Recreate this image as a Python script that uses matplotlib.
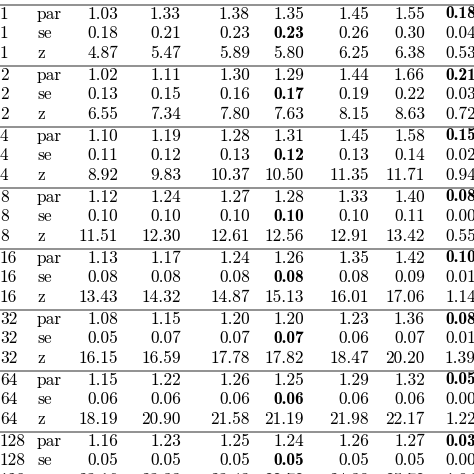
import matplotlib
matplotlib.use("Agg")
from matplotlib import pyplot as plt

ns = [1, 2, 4, 8, 16, 32, 64, 128]
kinds = ["par", "se", "z"]
par = [[1.03, 1.33, 1.38, 1.35, 1.45, 1.55, 0.18],
       [1.02, 1.11, 1.30, 1.29, 1.44, 1.66, 0.21],
       [1.10, 1.19, 1.28, 1.31, 1.45, 1.58, 0.15],
       [1.12, 1.24, 1.27, 1.28, 1.33, 1.40, 0.08],
       [1.13, 1.17, 1.24, 1.26, 1.35, 1.42, 0.10],
       [1.08, 1.15, 1.20, 1.20, 1.23, 1.36, 0.08],
       [1.15, 1.22, 1.26, 1.25, 1.29, 1.32, 0.05],
       [1.16, 1.23, 1.25, 1.24, 1.26, 1.27, 0.03]]
se = [[0.18, 0.21, 0.23, 0.23, 0.26, 0.30, 0.04],
      [0.13, 0.15, 0.16, 0.17, 0.19, 0.22, 0.03],
      [0.11, 0.12, 0.13, 0.12, 0.13, 0.14, 0.02],
      [0.10, 0.10, 0.10, 0.10, 0.10, 0.11, 0.00],
      [0.08, 0.08, 0.08, 0.08, 0.08, 0.09, 0.01],
      [0.05, 0.07, 0.07, 0.07, 0.06, 0.07, 0.01],
      [0.06, 0.06, 0.06, 0.06, 0.06, 0.06, 0.00],
      [0.05, 0.05, 0.05, 0.05, 0.05, 0.05, 0.00]]
z = [[4.87, 5.47, 5.89, 5.80, 6.25, 6.38, 0.53],
     [6.55, 7.34, 7.80, 7.63, 8.15, 8.63, 0.72],
     [8.92, 9.83, 10.37, 10.50, 11.35, 11.71, 0.94],
     [11.51, 12.30, 12.61, 12.56, 12.91, 13.42, 0.55],
     [13.43, 14.32, 14.87, 15.13, 16.01, 17.06, 1.14],
     [16.15, 16.59, 17.78, 17.82, 18.47, 20.20, 1.39],
     [18.19, 20.90, 21.58, 21.19, 21.98, 22.17, 1.22],
     [23.16, 23.33, 23.43, 23.73, 24.38, 25.73, 1.84]]
bold_col = {"par": 6, "se": 3, "z": None}

W = 474
fig = plt.figure(figsize=(4.74, 4.74), dpi=100)
fig.patch.set_facecolor("white")

col_right = [118, 181, 250, 304, 369, 425, 476]

def px(x, y):
    return x / W, 1 - y / W

fs = 12.5
for g, n in enumerate(ns):
    base = 14 + 61 * g
    rows = [par[g], se[g], z[g]]
    line_y = base - 9
    fig.add_artist(plt.Line2D([0, 1], [1 - line_y / W] * 2, color="#888888", lw=1.3))
    for r, kind in enumerate(kinds):
        y = base + 19.5 * r
        fig.text(*px(0, y), str(n), ha="left", fontsize=fs, family="cmr10", va="center")
        fig.text(*px(37, y), kind, ha="left", fontsize=fs, family="cmr10", va="center")
        for c, v in enumerate(rows[r]):
            bold = bold_col[kind] == c or (g == 7 and kind == "z" and c in (3, 5))
            fam = "cmb10" if bold else "cmr10"
            fig.text(*px(col_right[c], y), f"{v:.2f}", ha="right", fontsize=fs,
                     family=fam, va="center")

fig.savefig("out.png", dpi=100)
